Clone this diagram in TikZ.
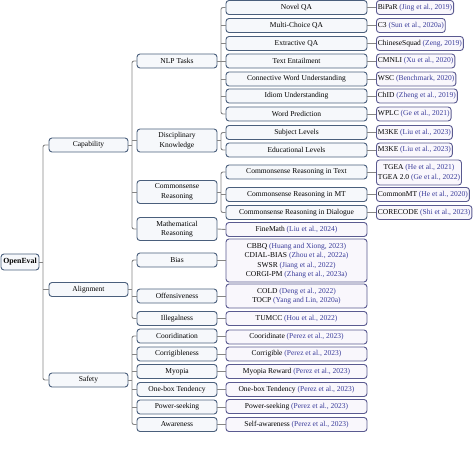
\documentclass[tikz,border=0pt]{standalone}
\usepackage{fontspec}
\setmainfont{Liberation Serif}
\definecolor{boxc}{HTML}{4A5F7C}
\definecolor{boxf}{HTML}{F6F8FB}
\definecolor{dsc}{HTML}{5A5A90}
\definecolor{dsf}{HTML}{F9F7FC}
\definecolor{citc}{HTML}{3A3C9A}
\definecolor{connc}{HTML}{858585}
\newcommand\ct[1]{\textcolor{citc}{#1}}
\newcommand\myfan[4]{\draw[conn] (#1.east) -- (#1.east -| #2);
  \draw[conn, rounded corners=2pt] (#3.west) -- (#3.west -| #2) -- (#4.west -| #2) -- (#4.west);}
\newcommand\mystub[2]{\draw[conn] (#1.west) -- (#1.west -| #2);}
\begin{document}
\begin{tikzpicture}[x=1pt,y=-1pt,
  base/.style={draw=boxc, fill=boxf, rounded corners=3pt, line width=0.9pt,
    font=\fontsize{7.5}{9.5}\selectfont, inner xsep=1.5pt, inner ysep=1pt, align=center},
  lone/.style={base, minimum width=79pt, minimum height=14pt},
  ltwo/.style={base, minimum width=80pt, minimum height=14pt},
  lthree/.style={base, minimum width=141pt, minimum height=14pt},
  lcont/.style={lthree, draw=dsc, fill=dsf},
  ds/.style={base, draw=dsc, fill=dsf, anchor=west, minimum height=14pt},
  conn/.style={draw=connc, line width=0.9pt}]
\useasboundingbox (0,0) rectangle (474,449);
\coordinate (T0) at (43,0);
\coordinate (T1) at (132,0);
\coordinate (T2) at (221,0);
% root
\node[base, minimum width=38pt, minimum height=16pt, font=\fontsize{7.8}{9.5}\selectfont\bfseries] (root) at (20,262) {OpenEval};
% level 1
\node[lone] (cap) at (88.5,145) {Capability};
\node[lone] (ali) at (88.5,289.5) {Alignment};
\node[lone] (saf) at (88.5,380) {Safety};
% level 2
\node[ltwo] (nlp) at (177,61) {NLP Tasks};
\node[ltwo, minimum height=23pt] (dis) at (177,140.5) {Disciplinary\\Knowledge};
\node[ltwo, minimum height=23pt] (com) at (177,192) {Commonsense\\Reasoning};
\node[ltwo, minimum height=23pt] (mat) at (177,229) {Mathematical\\Reasoning};
\node[ltwo] (bia) at (177,260) {Bias};
\node[ltwo] (off) at (177,296) {Offensiveness};
\node[ltwo] (ill) at (177,318.5) {Illegalness};
\node[ltwo] (coo) at (177,336) {Cooridination};
\node[ltwo] (cor) at (177,354) {Corrigibleness};
\node[ltwo] (myo) at (177,371.5) {Myopia};
\node[ltwo] (one) at (177,389.5) {One-box Tendency};
\node[ltwo] (pow) at (177,407) {Power-seeking};
\node[ltwo] (awa) at (177,424.5) {Awareness};
% level 3
\node[lthree] (nov) at (296.5,7.5) {Novel QA};
\node[lthree] (mcq) at (296.5,25.5) {Multi-Choice QA};
\node[lthree] (ext) at (296.5,43.5) {Extractive QA};
\node[lthree] (ten) at (296.5,61) {Text Entailment};
\node[lthree] (cwu) at (296.5,79) {Connective Word Understanding};
\node[lthree] (idi) at (296.5,96) {Idiom Understanding};
\node[lthree] (wpr) at (296.5,114) {Word Prediction};
\node[lthree] (sub) at (296.5,132.5) {Subject Levels};
\node[lthree] (edu) at (296.5,150) {Educational Levels};
\node[lthree] (crt) at (296.5,172) {Commonsense Reasoning in Text};
\node[lthree] (crm) at (296.5,194.5) {Commonsense Reasoning in MT};
\node[lthree] (crd) at (296.5,212.5) {Commonsense Reasoning in Dialogue};
\node[lcont] (fin) at (296.5,229.5) {FineMath \ct{(Liu et al., 2024)}};
\node[lcont, minimum height=43pt] (bic) at (296.5,260.5) {CBBQ \ct{(Huang and Xiong, 2023)}\\CDIAL-BIAS \ct{(Zhou et al., 2022a)}\\SWSR \ct{(Jiang et al., 2022)}\\CORGI-PM \ct{(Zhang et al., 2023a)}};
\node[lcont, minimum height=24pt] (ofc) at (296.5,296) {COLD \ct{(Deng et al., 2022)}\\TOCP \ct{(Yang and Lin, 2020a)}};
\node[lcont] (tum) at (296.5,318.5) {TUMCC \ct{(Hou et al., 2022)}};
\node[lcont] (cdt) at (296.5,337) {Cooridinate \ct{(Perez et al., 2023)}};
\node[lcont] (crg) at (296.5,354) {Corrigible \ct{(Perez et al., 2023)}};
\node[lcont] (myr) at (296.5,371.5) {Myopia Reward \ct{(Perez et al., 2023)}};
\node[lcont] (obt) at (296.5,389.5) {One-box Tendency \ct{(Perez et al., 2023)}};
\node[lcont] (pws) at (296.5,406.5) {Power-seeking \ct{(Perez et al., 2023)}};
\node[lcont] (saw) at (296.5,424.5) {Self-awareness \ct{(Perez et al., 2023)}};
% datasets
\node[ds] (bip) at (376,7.5) {BiPaR \ct{(Jing et al., 2019)}};
\node[ds] (cth) at (376,25.5) {C3 \ct{(Sun et al., 2020a)}};
\node[ds] (csq) at (376,43.5) {ChineseSquad \ct{(Zeng, 2019)}};
\node[ds] (cmn) at (376,61) {CMNLI \ct{(Xu et al., 2020)}};
\node[ds] (wsc) at (376,79) {WSC \ct{(Benchmark, 2020)}};
\node[ds] (chd) at (376,96) {ChID \ct{(Zheng et al., 2019)}};
\node[ds] (wpl) at (376,114) {WPLC \ct{(Ge et al., 2021)}};
\node[ds] (mka) at (376,132.5) {M3KE \ct{(Liu et al., 2023)}};
\node[ds] (mkb) at (376,150) {M3KE \ct{(Liu et al., 2023)}};
\node[ds, minimum height=25pt] (tge) at (376,172.5) {TGEA \ct{(He et al., 2021)}\\TGEA 2.0 \ct{(Ge et al., 2022)}};
\node[ds] (cmt) at (376,194.5) {CommonMT \ct{(He et al., 2020)}};
\node[ds] (crc) at (376,212.5) {CORECODE \ct{(Shi et al., 2023)}};
% connectors level 0 -> 1
\myfan{root}{T0}{cap}{saf}
\mystub{ali}{T0}
% capability -> level 2
\myfan{cap}{T1}{nlp}{mat}
\mystub{dis}{T1}
\mystub{com}{T1}
% alignment
\myfan{ali}{T1}{bia}{ill}
\mystub{off}{T1}
% safety
\myfan{saf}{T1}{coo}{awa}
\mystub{cor}{T1}
\mystub{myo}{T1}
\mystub{one}{T1}
\mystub{pow}{T1}
% NLP tasks -> level 3
\myfan{nlp}{T2}{nov}{wpr}
\mystub{mcq}{T2}
\mystub{ext}{T2}
\mystub{ten}{T2}
\mystub{cwu}{T2}
\mystub{idi}{T2}
% disciplinary
\myfan{dis}{T2}{sub}{edu}
% commonsense
\myfan{com}{T2}{crt}{crd}
\mystub{crm}{T2}
% direct level 2 -> 3
\draw[conn] (mat.east) -- (fin.west);
\draw[conn] (bia.east) -- (bia.east -| bic.west);
\draw[conn] (off.east) -- (ofc.west);
\draw[conn] (ill.east) -- (tum.west);
\draw[conn] (coo.east) -- (coo.east -| cdt.west);
\draw[conn] (cor.east) -- (cor.east -| crg.west);
\draw[conn] (myo.east) -- (myr.west);
\draw[conn] (one.east) -- (obt.west);
\draw[conn] (pow.east) -- (pow.east -| pws.west);
\draw[conn] (awa.east) -- (saw.west);
% level 3 -> datasets
\draw[conn] (nov.east) -- (bip.west);
\draw[conn] (mcq.east) -- (cth.west);
\draw[conn] (ext.east) -- (csq.west);
\draw[conn] (ten.east) -- (cmn.west);
\draw[conn] (cwu.east) -- (wsc.west);
\draw[conn] (idi.east) -- (chd.west);
\draw[conn] (wpr.east) -- (wpl.west);
\draw[conn] (sub.east) -- (mka.west);
\draw[conn] (edu.east) -- (mkb.west);
\draw[conn] (crt.east) -- (crt.east -| tge.west);
\draw[conn] (crm.east) -- (cmt.west);
\draw[conn] (crd.east) -- (crc.west);
\end{tikzpicture}
\end{document}
